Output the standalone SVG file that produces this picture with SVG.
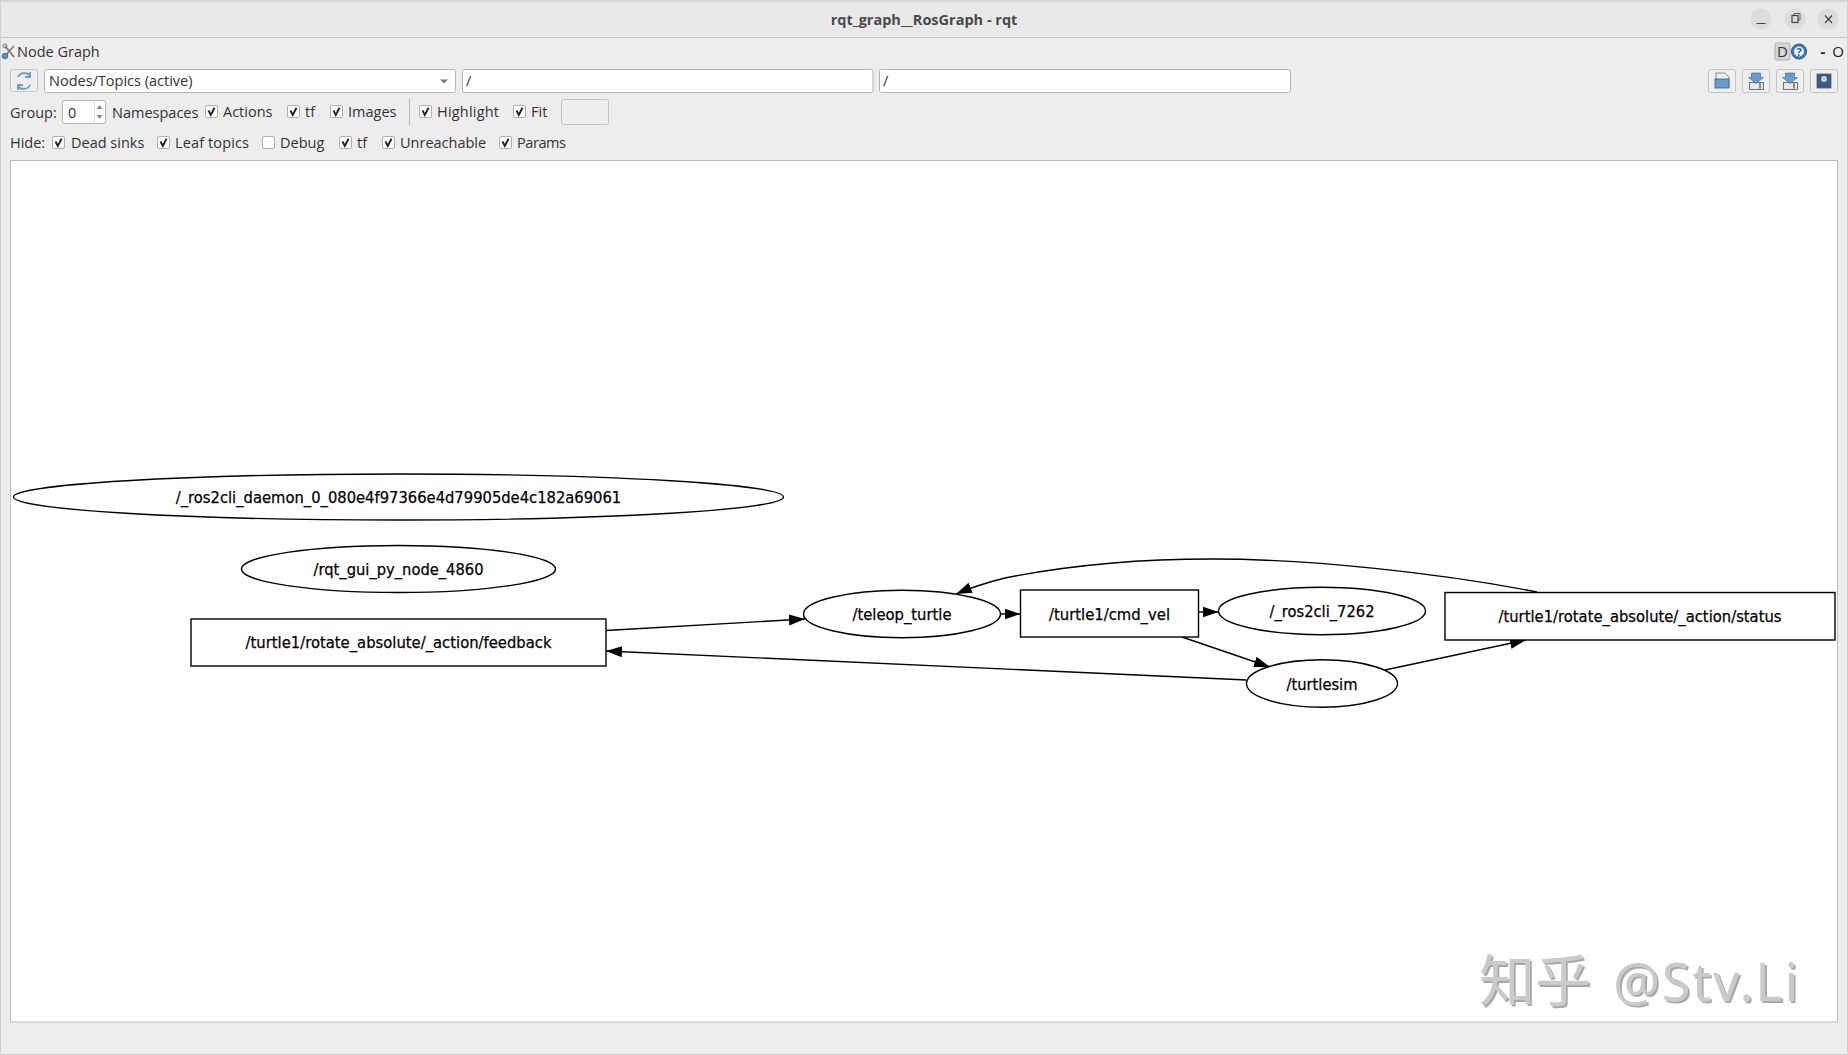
<svg xmlns="http://www.w3.org/2000/svg" width="1848" height="1055" viewBox="0 0 1848 1055">
<style>
.ui{font-family:"Open Sans","Noto Sans","Liberation Sans",sans-serif;font-size:14.5px;fill:#333}
.g{font-family:"DejaVu Sans","Liberation Sans",sans-serif;font-size:15.5px;fill:#000;stroke:#000;stroke-width:.25;text-anchor:middle}
.n{fill:#fff;stroke:#000;stroke-width:1.4}
.e{fill:none;stroke:#000;stroke-width:1.4;marker-end:url(#ah)}
.fld{fill:#fff;stroke:#b4b4b4;stroke-width:1}
.btn{fill:#efefef;stroke:#c2c2c2;stroke-width:1}
.cb{fill:#fff;stroke:#b0b0b0;stroke-width:1}
.ck{fill:none;stroke:#222;stroke-width:1.9}
.wc{fill:#dcdcdc}
.ic{fill:#5b8fc4;stroke:#2f5f90;stroke-width:.8}
</style>
<defs>
<marker id="ah" markerUnits="userSpaceOnUse" markerWidth="18" markerHeight="14" refX="16" refY="6" orient="auto"><path d="M0,0.500L16,6L0,11.500Z" fill="#000"/></marker>
<g id="cbc"><rect class="cb" x="0.500" y="0.500" width="12" height="12" rx="1.500"/><path class="ck" d="M3.500,5.500L5.800,10L9.500,2.800"/></g>
<g id="sv"><rect class="btn" x="0" y="0" width="27" height="23" rx="2"/><rect x="7" y="13" width="14" height="7" fill="#e8e8e8" stroke="#555" stroke-width=".8"/><path d="M17.500,13.500V19" stroke="#333"/><path d="M9,3.500H18V8H21L13.500,14L6,8H9Z" fill="#6a9bcc" stroke="#2f5f90" stroke-width=".6"/></g>
<filter id="emb" x="-5%" y="-10%" width="110%" height="120%"><feOffset in="SourceAlpha" dx="1.500" dy="2" result="o"/><feComposite in="o" in2="SourceAlpha" operator="out" result="c"/><feFlood flood-color="#a8a8a8"/><feComposite in2="c" operator="in" result="s"/><feFlood flood-color="#bdbdbd" flood-opacity=".8"/><feComposite in2="SourceAlpha" operator="in" result="f"/><feMerge><feMergeNode in="f"/><feMergeNode in="s"/></feMerge></filter>
</defs>
<rect width="1848" height="1055" fill="#ededed"/>
<g id="window-chrome">
<rect x="0" y="0" width="1848" height="37" fill="#e9e9e9"/>
<path d="M0,1H1848M0,37.500H1848" stroke="#c6c6c6" fill="none"/>
<path d="M.5,0V1055M1847.500,0V1055M0,1054.500H1848" stroke="#cfcfcf" fill="none"/>
<text x="924" y="24.500" text-anchor="middle" style="font-family:'Open Sans','Noto Sans',sans-serif;font-size:14.500px;font-weight:700;fill:#4a4a4a">rqt_graph__RosGraph - rqt</text>
<circle class="wc" cx="1761" cy="19" r="10.500"/><circle class="wc" cx="1795" cy="19" r="10.500"/><circle class="wc" cx="1828" cy="19" r="10.500"/>
<path d="M1756.500,23.500H1765.500M1825,15.500L1832,23M1832,15.500L1825,23" stroke="#444" stroke-width="1.200" fill="none"/>
<rect x="1792" y="15.500" width="6" height="7" fill="none" stroke="#444" stroke-width="1.200"/>
<path d="M1794,15.500V13.500H1800V20H1798" stroke="#444" fill="none" stroke-width=".8"/>
</g>
<g id="toolbar">
<path d="M3,58L14,46M5,46L14,57" stroke="#777" stroke-width="1.600"/><circle cx="5" cy="56" r="2.800" class="ic"/><circle cx="5" cy="46" r="2" fill="none" stroke="#777"/>
<text class="ui" x="17" y="57">Node Graph</text>
<rect x="1775" y="43" width="15" height="17" rx="2" fill="#d6d6d6" stroke="#b0b0b0"/>
<text x="1782.500" y="57" text-anchor="middle" style="font-family:'Open Sans',sans-serif;font-size:15px;fill:#333">D</text>
<circle cx="1799" cy="51.500" r="7.500" fill="#3f78b5" stroke="#1f4f86"/><circle cx="1799" cy="51.500" r="5" fill="#e8f0fa"/>
<text x="1799" y="56" text-anchor="middle" style="font-family:'Open Sans',sans-serif;font-size:11px;font-weight:700;fill:#27609c">?</text>
<text x="1823" y="57" text-anchor="middle" style="font-family:'Open Sans',sans-serif;font-size:15px;font-weight:700;fill:#222">-</text>
<text x="1838" y="57" text-anchor="middle" style="font-family:'Open Sans',sans-serif;font-size:15px;fill:#222">O</text>

<rect class="btn" x="10.500" y="69.500" width="27" height="22" rx="2"/>
<path d="M18,77C20,72 28,72 30,76M30,72V77H25M30,85C28,90 20,90 18,86M18,90V85H23" fill="none" stroke="#6b9cc8" stroke-width="1.800"/>
<rect class="fld" x="44.500" y="69.500" width="411" height="23" rx="2"/>
<text class="ui" x="49" y="86">Nodes/Topics (active)</text>
<path d="M440,79.500H448L444,83.500Z" fill="#777"/>
<rect class="fld" x="462.500" y="69.500" width="410.500" height="23" rx="2"/>
<text class="ui" x="466" y="86">/</text>
<rect class="fld" x="879.500" y="69.500" width="411" height="23" rx="2"/>
<text class="ui" x="883" y="86">/</text>
<g><rect class="btn" x="1708.500" y="69.500" width="27" height="23" rx="2"/><path d="M1716,73H1725L1729,77V87H1716Z" fill="#ececec" stroke="#777" stroke-width=".8"/><rect x="1715" y="79" width="14" height="9" fill="#6a9bcc" stroke="#2f5f90" stroke-width=".8"/></g>
<use href="#sv" x="1742.500" y="69.500"/>
<use href="#sv" x="1776.500" y="69.500"/>
<g><rect class="btn" x="1810.500" y="69.500" width="27" height="23" rx="2"/><rect x="1817" y="74" width="14" height="14" fill="#3a5a85" stroke="#555" stroke-width=".8"/><circle cx="1824" cy="79" r="3" fill="#bcd0e6"/></g>

<text class="ui" x="10" y="118">Group:</text>
<rect class="fld" x="62.500" y="100.500" width="43" height="23" rx="2"/>
<text class="ui" x="68" y="118">0</text>
<path d="M94.500,101V123" stroke="#d8d8d8"/>
<path d="M96.500,109L99.500,105L102.500,109Z M96.500,115L99.500,119L102.500,115Z" fill="#8a8a8a"/>
<text class="ui" x="112" y="118">Namespaces</text>
<use href="#cbc" x="205" y="105"/><text class="ui" x="223" y="117">Actions</text>
<use href="#cbc" x="287" y="105"/><text class="ui" x="305" y="117">tf</text>
<use href="#cbc" x="330" y="105"/><text class="ui" x="348" y="117">Images</text>
<path d="M409.500,99V125" stroke="#bdbdbd"/>
<use href="#cbc" x="419" y="105"/><text class="ui" x="437" y="117" textLength="62">Highlight</text>
<use href="#cbc" x="513" y="105"/><text class="ui" x="531" y="117">Fit</text>
<rect class="btn" x="561.500" y="99.500" width="47" height="25" rx="2"/>

<text class="ui" x="10" y="148">Hide:</text>
<use href="#cbc" x="52" y="136"/><text class="ui" x="71" y="148">Dead sinks</text>
<use href="#cbc" x="157" y="136"/><text class="ui" x="175" y="148" textLength="74">Leaf topics</text>
<rect class="cb" x="262.500" y="136.500" width="12" height="12" rx="1.500"/><text class="ui" x="280" y="148">Debug</text>
<use href="#cbc" x="339" y="136"/><text class="ui" x="357" y="148">tf</text>
<use href="#cbc" x="382" y="136"/><text class="ui" x="400" y="148">Unreachable</text>
<use href="#cbc" x="499" y="136"/><text class="ui" x="517" y="148" textLength="49">Params</text>
</g>
<rect id="canvas" x="10.500" y="160.500" width="1827" height="861.500" fill="#fff" stroke="#bcbcbc"/>
<g id="connectors">
<path class="e" d="M606,630.500L805,619"/>
<path class="e" d="M1246.500,680L606,651"/>
<path class="e" d="M1000.500,614H1020.500"/>
<path class="e" d="M1199,612H1218.500"/>
<path class="e" d="M1182,637L1270,667"/>
<path class="e" d="M1385,670L1526,640"/>
<path class="e" d="M1537,592C1440,573 1310,559 1212,559C1130,559 1060,567 1005,578C985,583 970,588 956,594"/>
</g>
<g id="n-daemon"><ellipse class="n" cx="398.500" cy="497" rx="385" ry="23"/><text class="g" x="398.500" y="502.500" textLength="445.500" lengthAdjust="spacingAndGlyphs">/_ros2cli_daemon_0_080e4f97366e4d79905de4c182a69061</text></g>
<g id="n-rqt"><ellipse class="n" cx="398.500" cy="569" rx="157" ry="23.500"/><text class="g" x="398.500" y="575" textLength="170" lengthAdjust="spacingAndGlyphs">/rqt_gui_py_node_4860</text></g>
<g id="n-feedback"><rect class="n" x="191" y="619" width="415" height="47"/><text class="g" x="398.500" y="648" textLength="306" lengthAdjust="spacingAndGlyphs">/turtle1/rotate_absolute/_action/feedback</text></g>
<g id="n-teleop"><ellipse class="n" cx="902" cy="614" rx="98.500" ry="23.700"/><text class="g" x="902" y="619.500" textLength="99" lengthAdjust="spacingAndGlyphs">/teleop_turtle</text></g>
<g id="n-cmdvel"><rect class="n" x="1020.500" y="590" width="178" height="47"/><text class="g" x="1109.500" y="619.500" textLength="121" lengthAdjust="spacingAndGlyphs">/turtle1/cmd_vel</text></g>
<g id="n-ros2cli"><ellipse class="n" cx="1322" cy="611" rx="103.500" ry="23.700"/><text class="g" x="1322" y="617" textLength="105" lengthAdjust="spacingAndGlyphs">/_ros2cli_7262</text></g>
<g id="n-status"><rect class="n" x="1445" y="592.500" width="390" height="47.500"/><text class="g" x="1640" y="622" textLength="283" lengthAdjust="spacingAndGlyphs">/turtle1/rotate_absolute/_action/status</text></g>
<g id="n-turtlesim"><ellipse class="n" cx="1322" cy="683.500" rx="75.500" ry="23.700"/><text class="g" x="1322" y="689.500" textLength="71" lengthAdjust="spacingAndGlyphs">/turtlesim</text></g>
<g id="watermark" filter="url(#emb)"><text x="1479" y="1001" style="font-family:'Noto Sans CJK SC',sans-serif;font-size:56px;fill:#000">知乎</text><text x="1613" y="1001" style="font-family:'Noto Sans',sans-serif;font-size:52px;letter-spacing:2px;fill:#000">@Stv.Li</text></g>
</svg>
